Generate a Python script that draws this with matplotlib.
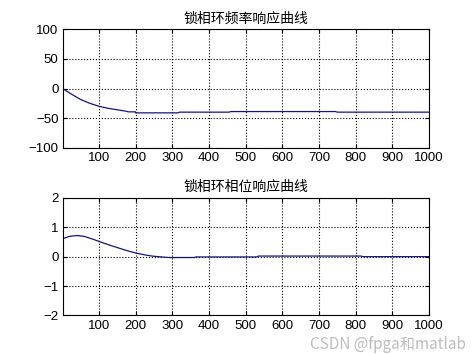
import matplotlib
matplotlib.use("Agg")
import matplotlib.pyplot as plt

plt.rcParams['font.family'] = ['Liberation Sans', 'Noto Sans CJK SC', 'DejaVu Sans']

# frequency response
freq_x = [1, 25, 50, 75, 100, 125, 150, 175, 180, 200, 200, 315, 320, 455, 460, 745, 750, 1000]
freq_y = [0, -9.5, -18.5, -25, -30, -33.5, -36, -38.5, -39.5, -39.5, -41.2, -41.2, -40, -40, -39, -39, -40, -40]

# phase response
phase_x = [1, 20, 40, 60, 80, 100, 125, 150, 175, 200, 225, 245, 280, 290, 360, 365, 530, 535, 815, 820, 1000]
phase_y = [0.61, 0.69, 0.72, 0.69, 0.61, 0.52, 0.41, 0.31, 0.21, 0.125, 0.06, 0.02, -0.02, -0.03, -0.03, -0.01, -0.01, 0.02, 0.02, 0.0, 0.0]

xticks = [100, 200, 300, 400, 500, 600, 700, 800, 900, 1000]
freq_ticks = [-100, -50, 0, 50, 100]
phase_ticks = [-2, -1, 0, 1, 2]

line_color = '#16167a'

fig = plt.figure(figsize=(4.74, 3.54), dpi=100)
fig.patch.set_facecolor('white')

def setup(ax, yticks, title):
    ax.set_xlim(1, 1000)
    ax.set_ylim(yticks[0], yticks[-1])
    ax.set_xticks(xticks)
    ax.set_yticks(yticks)
    ax.grid(True, linestyle=':', color='black', linewidth=0.8)
    ax.tick_params(direction='in', length=3, labelsize=9.5, top=True, right=True, pad=3)
    for s in ax.spines.values():
        s.set_linewidth(0.8)
    ax.set_title(title, fontsize=10, pad=5, family=['Noto Sans CJK SC', 'DejaVu Sans'])

ax1 = fig.add_axes([0.132, 0.583, 0.773, 0.334])
ax1.plot(freq_x, freq_y, color=line_color, linewidth=0.9)
setup(ax1, freq_ticks, '锁相环频率响应曲线')

ax2 = fig.add_axes([0.132, 0.109, 0.773, 0.332])
ax2.plot(phase_x, phase_y, color=line_color, linewidth=0.9)
setup(ax2, phase_ticks, '锁相环相位响应曲线')

fig.text(0.982, 0.004, 'CSDN @fpga和matlab', ha='right', va='bottom',
         fontsize=11, color='#bdbdbd', family=['Noto Sans CJK SC', 'DejaVu Sans'])

fig.savefig('out.png', dpi=100)
